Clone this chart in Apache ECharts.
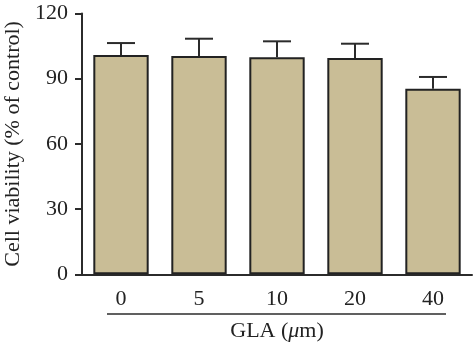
<!DOCTYPE html>
<html><head><meta charset="utf-8">
<script src="https://cdn.jsdelivr.net/npm/echarts@6/dist/echarts.min.js"></script>
<style>html,body{margin:0;padding:0;background:#fff}#c{width:474px;height:346px}</style>
</head><body><div id="c"></div>
<script>
const categories = ['0', '5', '10', '20', '40'];
const means = [100.9, 100.5, 99.9, 99.5, 85.4];
const errors = [5.5, 7.9, 7.3, 6.6, 5.4];
const yTicks = [0, 30, 60, 90, 120];

const chart = echarts.init(document.getElementById('c'));
const font = '"Liberation Serif", "DejaVu Serif", serif';
const dark = '#2b2b2b';
chart.setOption({
  animation: false,
  grid: { left: 82, right: 2, top: 13.5, bottom: 71.7, containLabel: false, outerBoundsMode: 'none' },
  xAxis: {
    type: 'category', data: categories,
    axisLine: { lineStyle: { color: dark, width: 2 } },
    axisTick: { alignWithLabel: true, length: 7, lineStyle: { color: dark, width: 2 } },
    axisLabel: { color: '#222', fontFamily: font, fontSize: 22, margin: 14 },
    name: '{a|GLA (}{b|μ}{a|m)}', nameLocation: 'middle', nameGap: 46,
    nameTextStyle: { rich: {
      a: { fontFamily: font, fontSize: 22, color: '#222' },
      b: { fontFamily: font, fontSize: 22, color: '#222', fontStyle: 'italic' }
    } }
  },
  yAxis: {
    type: 'value', min: 0, max: 120, interval: 30,
    axisLine: { show: true, lineStyle: { color: dark, width: 2 } },
    axisTick: { show: true, length: 7, lineStyle: { color: dark, width: 2 } },
    splitLine: { show: false },
    axisLabel: { color: '#222', fontFamily: font, fontSize: 22, margin: 14,
      formatter: v => yTicks.includes(v) ? String(v) : '' },
    name: 'Cell viability (% of control)', nameLocation: 'middle', nameGap: 58,
    nameTextStyle: { fontFamily: font, fontSize: 22, color: '#222' }
  },
  graphic: [{
    type: 'line', shape: { x1: 107, y1: 314, x2: 446, y2: 314 },
    style: { stroke: dark, lineWidth: 1.5 }
  }],
  series: [{
    type: 'bar', data: means, barCategoryGap: '29%',
    itemStyle: { color: '#c9bd96', borderColor: '#222', borderWidth: 2 }
  }, {
    type: 'custom',
    data: means.map((m, i) => [i, m, m + errors[i]]),
    renderItem: function (params, api) {
      const base = api.coord([api.value(0), api.value(1)]);
      const top = api.coord([api.value(0), api.value(2)]);
      const half = 14;
      const st = { stroke: dark, lineWidth: 2 };
      return { type: 'group', children: [
        { type: 'line', shape: { x1: base[0], y1: base[1], x2: top[0], y2: top[1] }, style: st },
        { type: 'line', shape: { x1: top[0] - half, y1: top[1], x2: top[0] + half, y2: top[1] }, style: st }
      ] };
    },
    z: 3
  }]
});
</script></body></html>
